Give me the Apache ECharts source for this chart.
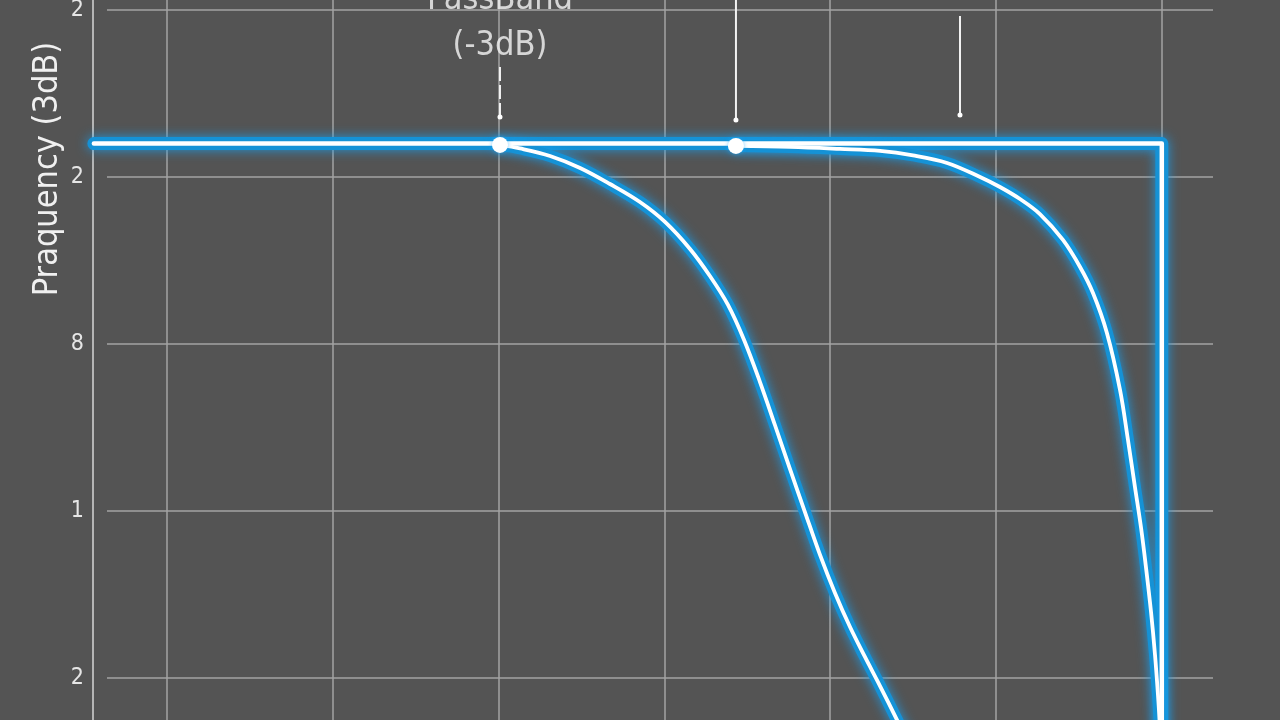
<!DOCTYPE html>
<html>
<head>
<meta charset="utf-8">
<script src="https://cdn.jsdelivr.net/npm/echarts@6/dist/echarts.min.js"></script>
<style>
html,body{margin:0;padding:0;background:#545454;}
#chart{width:1280px;height:720px;}
</style>
</head>
<body>
<div id="chart"></div>
<script>
// x in grid-column units (vertical grid lines at 1..7), y in row units (horizontal grid lines at 0..4, downward)
const yTickLabels = ['2', '2', '8', '1', '2'];
const yAxisTitle = 'Praquency (3dB)';
const annotationText = ['PassBand', '(-3dB)'];

const idealX = [0.56, 7.0, 7.0];
const idealY = [0.80, 0.80, 4.40];

const gentleX = [3.009, 3.130, 3.311, 3.492, 3.672, 3.853, 4.004, 4.155, 4.275, 4.384, 4.481, 4.577, 4.667, 4.758, 4.848, 4.939, 5.029, 5.120, 5.210, 5.301, 5.403, 5.451];
const gentleY = [0.808, 0.829, 0.874, 0.946, 1.042, 1.150, 1.269, 1.431, 1.593, 1.766, 1.976, 2.228, 2.485, 2.749, 3.006, 3.263, 3.491, 3.695, 3.874, 4.048, 4.251, 4.347];

const steepX = [4.432, 4.758, 5.059, 5.301, 5.500, 5.705, 5.904, 6.024, 6.145, 6.265, 6.404, 6.507, 6.585, 6.669, 6.748, 6.796, 6.838, 6.875, 6.905, 6.935, 6.959, 6.977, 6.986, 6.991];
const steepY = [0.814, 0.820, 0.832, 0.844, 0.871, 0.916, 1.000, 1.060, 1.132, 1.222, 1.377, 1.539, 1.695, 1.934, 2.275, 2.575, 2.856, 3.102, 3.341, 3.605, 3.862, 4.102, 4.251, 4.401];

const cutoffX = [3.009, 4.432];
const cutoffY = [0.808, 0.814];

// pointer lines: x, top y, bottom y
const pointerX = [3.009, 4.432, 5.783];
const pointerTop = [0.341, -0.06, 0.036];
const pointerBottom = [0.641, 0.659, 0.629];
const pointerDashed = [true, false, false];

const labelX = 3.009;
const labelY = 0.078;

const zip = (xs, ys) => xs.map((x, i) => [x, ys[i]]);

const FONT = "'DejaVu Sans Condensed', 'Liberation Sans Narrow', 'DejaVu Sans', sans-serif";
const GRID_COLOR = '#a3a3a3';
const GLOW = '#1592d6';

function glowSeries(data, width, smooth) {
  return {
    type: 'line', xAxisIndex: 0, yAxisIndex: 0, data: data, symbol: 'none',
    smooth: smooth, z: 3, silent: true,
    lineStyle: { color: GLOW, width: width, shadowBlur: 12, shadowColor: 'rgba(25,160,240,0.85)', cap: 'round', join: 'round' }
  };
}
function coreSeries(data, width, smooth) {
  return {
    type: 'line', xAxisIndex: 0, yAxisIndex: 0, data: data, symbol: 'none',
    smooth: smooth, z: 5, silent: true,
    lineStyle: { color: '#ffffff', width: width, cap: 'round', join: 'round' }
  };
}

const idealData = zip(idealX, idealY);
const gentleData = zip(gentleX, gentleY);
const steepData = zip(steepX, steepY);

const series = [];
series.push(glowSeries(idealData, 13, false));
series.push(glowSeries(gentleData, 12, 0.35));
series.push(glowSeries(steepData, 12, 0.35));
series.push(coreSeries(idealData, 4.5, false));
series.push(coreSeries(gentleData, 3.8, 0.35));
series.push(coreSeries(steepData, 3.8, 0.35));

series.push({
  type: 'scatter', xAxisIndex: 0, yAxisIndex: 0, z: 6, silent: true,
  symbolSize: 16,
  itemStyle: { color: '#ffffff', opacity: 1, shadowBlur: 4, shadowColor: 'rgba(30,170,255,0.6)' },
  data: zip(cutoffX, cutoffY)
});

pointerX.forEach((x, i) => {
  series.push({
    type: 'line', xAxisIndex: 0, yAxisIndex: 0, z: 6, silent: true,
    data: [
      { value: [x, pointerTop[i]], symbol: 'none' },
      { value: [x, pointerBottom[i]], symbol: 'circle', symbolSize: 5 }
    ],
    itemStyle: { color: '#ffffff', opacity: 1 },
    lineStyle: { color: '#f2f2f2', width: 2, type: pointerDashed[i] ? [14, 4] : 'solid' }
  });
});

series.push({
  type: 'scatter', xAxisIndex: 0, yAxisIndex: 0, z: 7, silent: true,
  symbolSize: 0,
  data: [[labelX, labelY]],
  label: {
    show: true, position: 'inside',
    formatter: annotationText.join('\n'),
    color: '#f6f6f6', fontFamily: FONT, fontSize: 34, lineHeight: 46,
    align: 'center', verticalAlign: 'middle'
  }
});

const option = {
  backgroundColor: '#545454',
  animation: false,
  grid: [
    { left: 1, right: 0, top: 0, bottom: 0, outerBoundsMode: 'none', containLabel: false },
    { left: 93, right: 0, top: 0, bottom: 0, outerBoundsMode: 'none', containLabel: false },
    { left: 107, right: 67, top: 10, bottom: 42, outerBoundsMode: 'none', containLabel: false }
  ],
  xAxis: [
    {
      gridIndex: 0, type: 'value', min: 0, max: 1279 / 165.83, interval: 1,
      axisLine: { show: false }, axisTick: { show: false }, axisLabel: { show: false },
      splitLine: { show: true, showMinLine: false, showMaxLine: false, lineStyle: { color: GRID_COLOR, width: 1.5 } }
    },
    { gridIndex: 1, type: 'value', show: false },
    { gridIndex: 2, type: 'value', show: false }
  ],
  yAxis: [
    {
      gridIndex: 0, type: 'value', inverse: true, min: -10 / 167, max: 710 / 167,
      show: false, splitLine: { show: false }
    },
    {
      gridIndex: 1, type: 'value', min: 0, max: 1,
      axisLine: { show: true, lineStyle: { color: '#d6d6d6', width: 1.5 } },
      axisTick: { show: false }, axisLabel: { show: false }, splitLine: { show: false }
    },
    {
      gridIndex: 2, type: 'value', inverse: true, min: 0, max: 4, interval: 1,
      axisLine: { show: false }, axisTick: { show: false },
      axisLabel: {
        show: true, margin: 23, color: '#e6e6e6', fontSize: 23, fontFamily: FONT,
        formatter: v => yTickLabels[Math.round(v)] || ''
      },
      splitLine: { show: true, showMinLine: true, showMaxLine: true, lineStyle: { color: GRID_COLOR, width: 1.5 } }
    }
  ],
  graphic: [
    {
      type: 'text', x: 48, y: 169, rotation: Math.PI / 2, z: 10,
      style: {
        text: yAxisTitle, fill: '#f0f0f0', font: '34px ' + FONT,
        align: 'center', verticalAlign: 'middle'
      }
    }
  ],
  series: series
};

const chart = echarts.init(document.getElementById('chart'), null, { renderer: 'canvas' });
chart.setOption(option);
</script>
</body>
</html>
